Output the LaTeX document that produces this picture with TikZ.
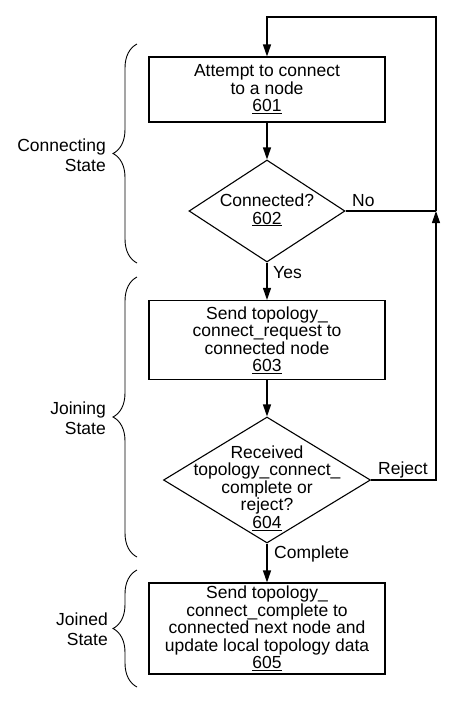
\documentclass[tikz,border=0pt]{standalone}
\usepackage{fontspec}
\setmainfont{Liberation Sans}
\usetikzlibrary{shapes.geometric,arrows.meta,decorations.pathreplacing}
\tikzset{
  stepbox/.style={draw, line width=1.1pt, minimum width=236pt, inner sep=0pt,
    align=center, font=\fontsize{17.5}{17.5}\selectfont},
  decision/.style={draw, diamond, line width=1.1pt, inner sep=0pt},
  steptext/.style={align=center, inner sep=0pt, font=\fontsize{17.5}{17.5}\selectfont},
  flow/.style={line width=1.1pt, -{Triangle[length=12pt,width=8pt]}},
  plain/.style={line width=1.1pt},
  edgetext/.style={anchor=west, inner sep=0pt, font=\fontsize{17.5}{20}\selectfont},
  statetext/.style={anchor=east, align=right, inner sep=0pt, font=\fontsize{17.5}{20}\selectfont},
  statebrace/.style={line width=0.9pt, decorate, decoration={brace, amplitude=24pt}}
}
\begin{document}
\begin{tikzpicture}[x=1pt, y=-1pt]
     \useasboundingbox (0,0) rectangle (474,724);
     % steps
     \node[stepbox, minimum height=65pt] (s601) at (267,89.5) {Attempt to connect\\to a node\\\underline{601}};
     \node[decision, minimum width=156pt, minimum height=102pt] (d602) at (267,211) {};
     \node[steptext] (t602) at (267,210) {Connected?\\\underline{602}};
     \node[stepbox, minimum height=79pt] (s603) at (267,340) {Send topology\_\\connect\_request to\\connected node\\\underline{603}};
     \node[decision, minimum width=207pt, minimum height=126pt] (d604) at (267,480) {};
     \node[steptext] (t604) at (267,488) {Received\\topology\_connect\_\\complete or\\reject?\\\underline{604}};
     \node[stepbox, minimum height=91pt] (s605) at (267,628.5) {Send topology\_\\connect\_complete to\\connected next node and\\update local topology data\\\underline{605}};
     % loop back
     \coordinate (join) at (436,211);
     \coordinate (top) at (436,17);
     \draw[flow] (s601) -- (d602);
     \draw[flow] (d602) -- (s603);
     \draw[flow] (s603) -- (d604);
     \draw[flow] (d604) -- (s605);
     \draw[plain] (d602.east) -- (join);
     \draw[flow] (d604.east) -| (join);
     \draw[flow] (join) -- (top) -| (s601.north);
     % labels
     \node[edgetext] (no) at (352,201) {No};
     \node[edgetext] (yes) at (273,273) {Yes};
     \node[edgetext] (reject) at (378,470) {Reject};
     \node[edgetext] (complete) at (274,554) {Complete};
     % states
     \draw[statebrace] (137,263) -- (137,44);
     \draw[statebrace] (137,557) -- (137,277);
     \draw[statebrace] (137,687) -- (137,570);
     \node[statetext] (connecting) at (106,155) {Connecting\\State};
     \node[statetext] (joining) at (106,418) {Joining\\State};
     \node[statetext] (joined) at (108,629) {Joined\\State};
\end{tikzpicture}
\end{document}
